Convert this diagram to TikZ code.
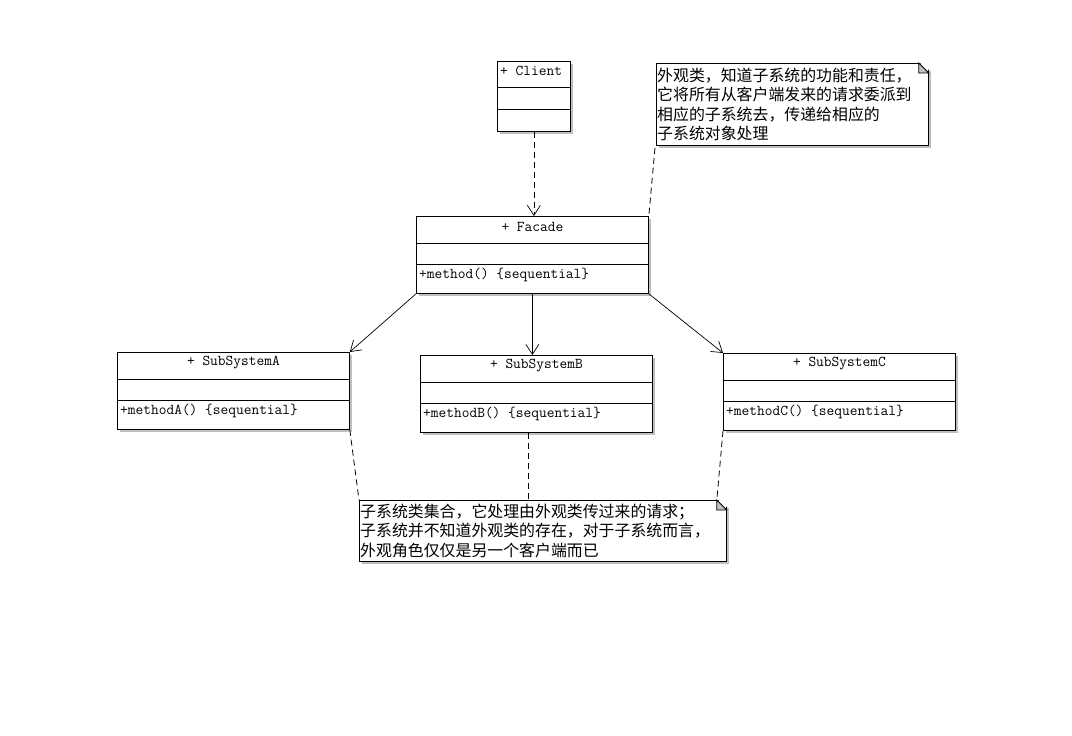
\documentclass[tikz,border=0pt]{standalone}
\usepackage{fontspec}
\newfontfamily\cjk{Noto Sans CJK SC}
\usetikzlibrary{arrows.meta,shadows}
\begin{document}
\begin{tikzpicture}[x=1pt,y=-1pt,
  cls/.style={draw, line width=0.8pt, fill=white, inner sep=0pt, anchor=north west,
    drop shadow={shadow xshift=2.5pt, shadow yshift=-2.5pt, fill=black!25, opacity=1}},
  notebox/.style={cls},
  rowline/.style={line width=0.8pt},
  lbl/.style={font=\ttfamily\fontsize{15}{17}\selectfont, inner sep=0pt},
  notetext/.style={font=\cjk\fontsize{15.9}{19.5}\selectfont, inner sep=0pt, align=left, anchor=west},
  dep/.style={line width=0.7pt, dash pattern=on 6pt off 4pt, -{Straight Barb[length=10pt,width=13pt,line width=0.7pt]}},
  assoc/.style={line width=0.7pt, -{Straight Barb[length=10pt,width=13pt,line width=0.7pt]}},
  anchorline/.style={line width=0.8pt, dash pattern=on 6pt off 4pt},
  fold/.style={line width=0.8pt, fill=black!25}
]
\useasboundingbox (0,0) rectangle (1072,736);
\fill[white] (0,0) rectangle (1072,736);

% Client
\node[cls, minimum width=73pt, minimum height=70pt] (client) at (497,61) {};
\draw[rowline] ([yshift=-26pt]client.north west) -- ([yshift=-26pt]client.north east);
\draw[rowline] ([yshift=-48pt]client.north west) -- ([yshift=-48pt]client.north east);
\node[lbl, anchor=west] (clientT) at ([xshift=3pt,yshift=-10pt]client.north west) {+ Client};

% Facade
\node[cls, minimum width=232pt, minimum height=77pt] (facade) at (416,216) {};
\draw[rowline] ([yshift=-27pt]facade.north west) -- ([yshift=-27pt]facade.north east);
\draw[rowline] ([yshift=-48pt]facade.north west) -- ([yshift=-48pt]facade.north east);
\node[lbl] (facadeT) at ([yshift=-11pt]facade.north) {+ Facade};
\node[lbl, anchor=west] (facadeM) at ([xshift=3pt,yshift=-59pt]facade.north west) {+method() \{sequential\}};

% SubSystemA
\node[cls, minimum width=232pt, minimum height=77pt] (subA) at (117,352) {};
\draw[rowline] ([yshift=-27pt]subA.north west) -- ([yshift=-27pt]subA.north east);
\draw[rowline] ([yshift=-48pt]subA.north west) -- ([yshift=-48pt]subA.north east);
\node[lbl] (subAT) at ([yshift=-11pt]subA.north) {+ SubSystemA};
\node[lbl, anchor=west] (subAM) at ([xshift=3pt,yshift=-59pt]subA.north west) {+methodA() \{sequential\}};

% SubSystemB
\node[cls, minimum width=232pt, minimum height=77pt] (subB) at (420,355) {};
\draw[rowline] ([yshift=-27pt]subB.north west) -- ([yshift=-27pt]subB.north east);
\draw[rowline] ([yshift=-48pt]subB.north west) -- ([yshift=-48pt]subB.north east);
\node[lbl] (subBT) at ([yshift=-11pt]subB.north) {+ SubSystemB};
\node[lbl, anchor=west] (subBM) at ([xshift=3pt,yshift=-59pt]subB.north west) {+methodB() \{sequential\}};

% SubSystemC
\node[cls, minimum width=232pt, minimum height=77pt] (subC) at (723,353) {};
\draw[rowline] ([yshift=-27pt]subC.north west) -- ([yshift=-27pt]subC.north east);
\draw[rowline] ([yshift=-48pt]subC.north west) -- ([yshift=-48pt]subC.north east);
\node[lbl] (subCT) at ([yshift=-11pt]subC.north) {+ SubSystemC};
\node[lbl, anchor=west] (subCM) at ([xshift=3pt,yshift=-59pt]subC.north west) {+methodC() \{sequential\}};

% Note 1
\node[notebox, minimum width=272pt, minimum height=82pt] (note1) at (656,63) {};
\fill[white] ([xshift=-10pt,yshift=1pt]note1.north east) -- ([xshift=4pt,yshift=1pt]note1.north east) -- ([xshift=4pt,yshift=-10pt]note1.north east) -- cycle;
\draw[fold] ([xshift=-10pt]note1.north east) -- ([xshift=-10pt,yshift=-10pt]note1.north east) -- ([yshift=-10pt]note1.north east) -- cycle;
\node[notetext] (note1T) at ([xshift=1pt]note1.west) {外观类，知道子系统的功能和责任，\\它将所有从客户端发来的请求委派到\\相应的子系统去，传递给相应的\\子系统对象处理};

% Note 2
\node[notebox, minimum width=367pt, minimum height=61pt] (note2) at (359,500) {};
\fill[white] ([xshift=-10pt,yshift=1pt]note2.north east) -- ([xshift=4pt,yshift=1pt]note2.north east) -- ([xshift=4pt,yshift=-10pt]note2.north east) -- cycle;
\draw[fold] ([xshift=-10pt]note2.north east) -- ([xshift=-10pt,yshift=-10pt]note2.north east) -- ([yshift=-10pt]note2.north east) -- cycle;
\node[notetext] (note2T) at ([xshift=1pt]note2.west) {子系统类集合，它处理由外观类传过来的请求；\\子系统并不知道外观类的存在，对于子系统而言，\\外观角色仅仅是另一个客户端而已};

% connectors
\draw[dep] (client.south) -- (client.south |- facade.north);
\draw[assoc] (facade.south west) -- (subA.north east);
\draw[assoc] (facade.south) -- (facade.south |- subB.north);
\draw[assoc] (facade.south east) -- (subC.north west);
\draw[anchorline] ([xshift=-1pt,yshift=-2pt]note1.south west) -- (facade.north east);
\draw[anchorline] (subA.south east) -- (note2.north west);
\draw[anchorline] ([xshift=-8pt]subB.south) -- ([xshift=-8pt]subB.south |- note2.north);
\draw[anchorline] (subC.south west) -- ([xshift=-10pt]note2.north east);
\end{tikzpicture}
\end{document}
